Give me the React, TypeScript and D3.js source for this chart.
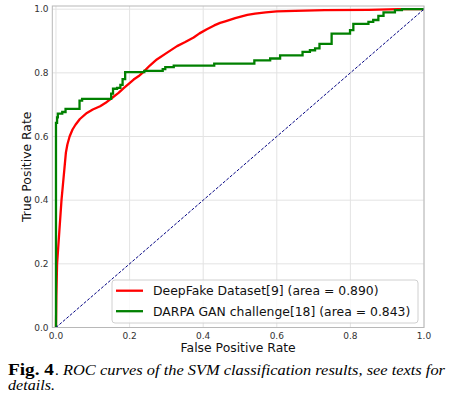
import React from "react";
import * as d3 from "d3";

// ---- data ----
const redFpr = [0, 0.001, 0.003, 0.006, 0.009, 0.015, 0.019, 0.023, 0.027, 0.031, 0.037, 0.045, 0.053, 0.065, 0.084, 0.1, 0.12, 0.134, 0.152, 0.17, 0.184, 0.2, 0.211, 0.225, 0.238, 0.255, 0.274, 0.3, 0.329, 0.35, 0.374, 0.39, 0.41, 0.43, 0.446, 0.46, 0.487, 0.52, 0.541, 0.57, 0.6, 0.65, 0.73, 0.85, 0.93, 1.0];
const redTpr = [0, 0.1, 0.2, 0.25, 0.3, 0.4, 0.45, 0.5, 0.55, 0.575, 0.6, 0.622, 0.637, 0.655, 0.674, 0.685, 0.695, 0.705, 0.721, 0.737, 0.752, 0.768, 0.779, 0.79, 0.803, 0.823, 0.842, 0.862, 0.884, 0.896, 0.911, 0.924, 0.937, 0.949, 0.957, 0.962, 0.972, 0.982, 0.986, 0.99, 0.993, 0.995, 0.997, 0.998, 1.0, 1.0];

const greenFpr = [0, 0, 0.003, 0.005, 0.017, 0.026, 0.064, 0.071, 0.15, 0.155, 0.166, 0.175, 0.181, 0.188, 0.24, 0.29, 0.297, 0.32, 0.43, 0.539, 0.582, 0.609, 0.67, 0.69, 0.704, 0.716, 0.749, 0.799, 0.808, 0.849, 0.862, 0.876, 0.89, 0.921, 0.94, 1.0];
const greenTpr = [0, 0.643, 0.66, 0.672, 0.677, 0.687, 0.713, 0.718, 0.735, 0.75, 0.753, 0.762, 0.78, 0.802, 0.806, 0.812, 0.818, 0.823, 0.829, 0.839, 0.845, 0.855, 0.866, 0.871, 0.877, 0.891, 0.923, 0.934, 0.954, 0.96, 0.966, 0.979, 0.99, 0.997, 1.0, 1.0];

const chanceFpr = [0, 1];
const chanceTpr = [0, 1];

const tickValues = [0, 0.2, 0.4, 0.6, 0.8, 1.0];
const tickLabels = ["0.0", "0.2", "0.4", "0.6", "0.8", "1.0"];

const seriesLabels = [
  "DeepFake Dataset[9] (area = 0.890)",
  "DARPA GAN challenge[18] (area = 0.843)",
];
const seriesColors = ["#ff0000", "#008000"];

const xLabel = "False Positive Rate";
const yLabel = "True Positive Rate";
const captionBold = "Fig. 4";
const captionLine1 = "ROC curves of the SVM classification results, see texts for";
const captionLine2 = "details.";

const W = 450;
const H = 402;
const L = 52.3, R = 424, T = 6, B = 327.5;

export default function App() {
  const x = d3.scaleLinear().domain([-0.01, 1.0]).range([L, R]);
  const y = d3.scaleLinear().domain([0, 1.01]).range([B, T]);

  const lineLin = d3
    .line<[number, number]>()
    .x((d) => x(d[0]))
    .y((d) => y(d[1]));
  const lineStep = d3
    .line<[number, number]>()
    .x((d) => x(d[0]))
    .y((d) => y(d[1]))
    .curve(d3.curveStepAfter);

  const redPts = redFpr.map((f, i) => [f, redTpr[i]] as [number, number]);
  const greenPts = greenFpr.map((f, i) => [f, greenTpr[i]] as [number, number]);
  const chancePts = chanceFpr.map((f, i) => [f, chanceTpr[i]] as [number, number]);

  const sans = "'DejaVu Sans', sans-serif";
  const serif = "'Liberation Serif', 'Times New Roman', serif";

  return (
    <svg
      width={W}
      height={H}
      style={{ position: "absolute", left: 0, top: 0, display: "block", background: "#fff" }}
    >
      <defs>
        <clipPath id="plotClip">
          <rect x={L} y={T} width={R - L} height={B - T} />
        </clipPath>
      </defs>
      {/* grid */}
      {tickValues.map((v) => (
        <line key={"gx" + v} x1={x(v)} x2={x(v)} y1={T} y2={B} stroke="#e3e3e3" strokeWidth={1} />
      ))}
      {tickValues.map((v) => (
        <line key={"gy" + v} x1={L} x2={R} y1={y(v)} y2={y(v)} stroke="#e3e3e3" strokeWidth={1} />
      ))}
      <g clipPath="url(#plotClip)">
        <path d={lineLin(redPts) || ""} fill="none" stroke={seriesColors[0]} strokeWidth={2.3} strokeLinejoin="round" />
        <path d={lineStep(greenPts) || ""} fill="none" stroke={seriesColors[1]} strokeWidth={2.3} />
        <path d={lineLin(chancePts) || ""} fill="none" stroke="#000080" strokeWidth={1} strokeDasharray="3,1.6" />
      </g>
      {/* spines */}
      <rect x={L} y={T} width={R - L} height={B - T} fill="none" stroke="#b8b8b8" strokeWidth={1} />
      {/* tick labels */}
      {tickValues.map((v, i) => (
        <text key={"tx" + v} x={x(v)} y={339} fontFamily={sans} fontSize={9} fill="#333" textAnchor="middle">
          {tickLabels[i]}
        </text>
      ))}
      {tickValues.map((v, i) => (
        <text key={"ty" + v} x={48.5} y={y(v)} dy="0.35em" fontFamily={sans} fontSize={9} fill="#333" textAnchor="end">
          {tickLabels[i]}
        </text>
      ))}
      {/* axis labels */}
      <text x={(L + R) / 2} y={352} fontFamily={sans} fontSize={12.4} fill="#111" textAnchor="middle">
        {xLabel}
      </text>
      <text
        transform={`translate(27,${(T + B) / 2}) rotate(-90)`}
        dy="0.35em"
        fontFamily={sans}
        fontSize={12.4}
        fill="#111"
        textAnchor="middle"
      >
        {yLabel}
      </text>
      {/* legend */}
      <rect x={112} y={280} width={306} height={43} rx={3} fill="#fff" fillOpacity={0.8} stroke="#d0d0d0" strokeWidth={1} />
      {seriesLabels.map((s, i) => (
        <g key={s}>
          <line x1={116} x2={143} y1={290.7 + i * 20.5} y2={290.7 + i * 20.5} stroke={seriesColors[i]} strokeWidth={2.3} />
          <text x={153} y={290.7 + i * 20.5} dy="0.36em" fontFamily={sans} fontSize={12.4} fill="#111">
            {s}
          </text>
        </g>
      ))}
      {/* caption */}
      <text x={8} y={375} fontFamily={serif} fontSize={16} fontWeight="bold" fill="#000" textLength={46} lengthAdjust="spacingAndGlyphs">
        {captionBold}
      </text>
      <text x={55} y={375} fontFamily={serif} fontSize={15} fill="#000">.</text>
      <text x={63} y={375} fontFamily={serif} fontSize={14.5} fontStyle="italic" fill="#000" textLength={382} lengthAdjust="spacingAndGlyphs">
        {captionLine1}
      </text>
      <text x={8} y={390} fontFamily={serif} fontSize={14.5} fontStyle="italic" fill="#000" textLength={47} lengthAdjust="spacingAndGlyphs">
        {captionLine2}
      </text>
    </svg>
  );
}
